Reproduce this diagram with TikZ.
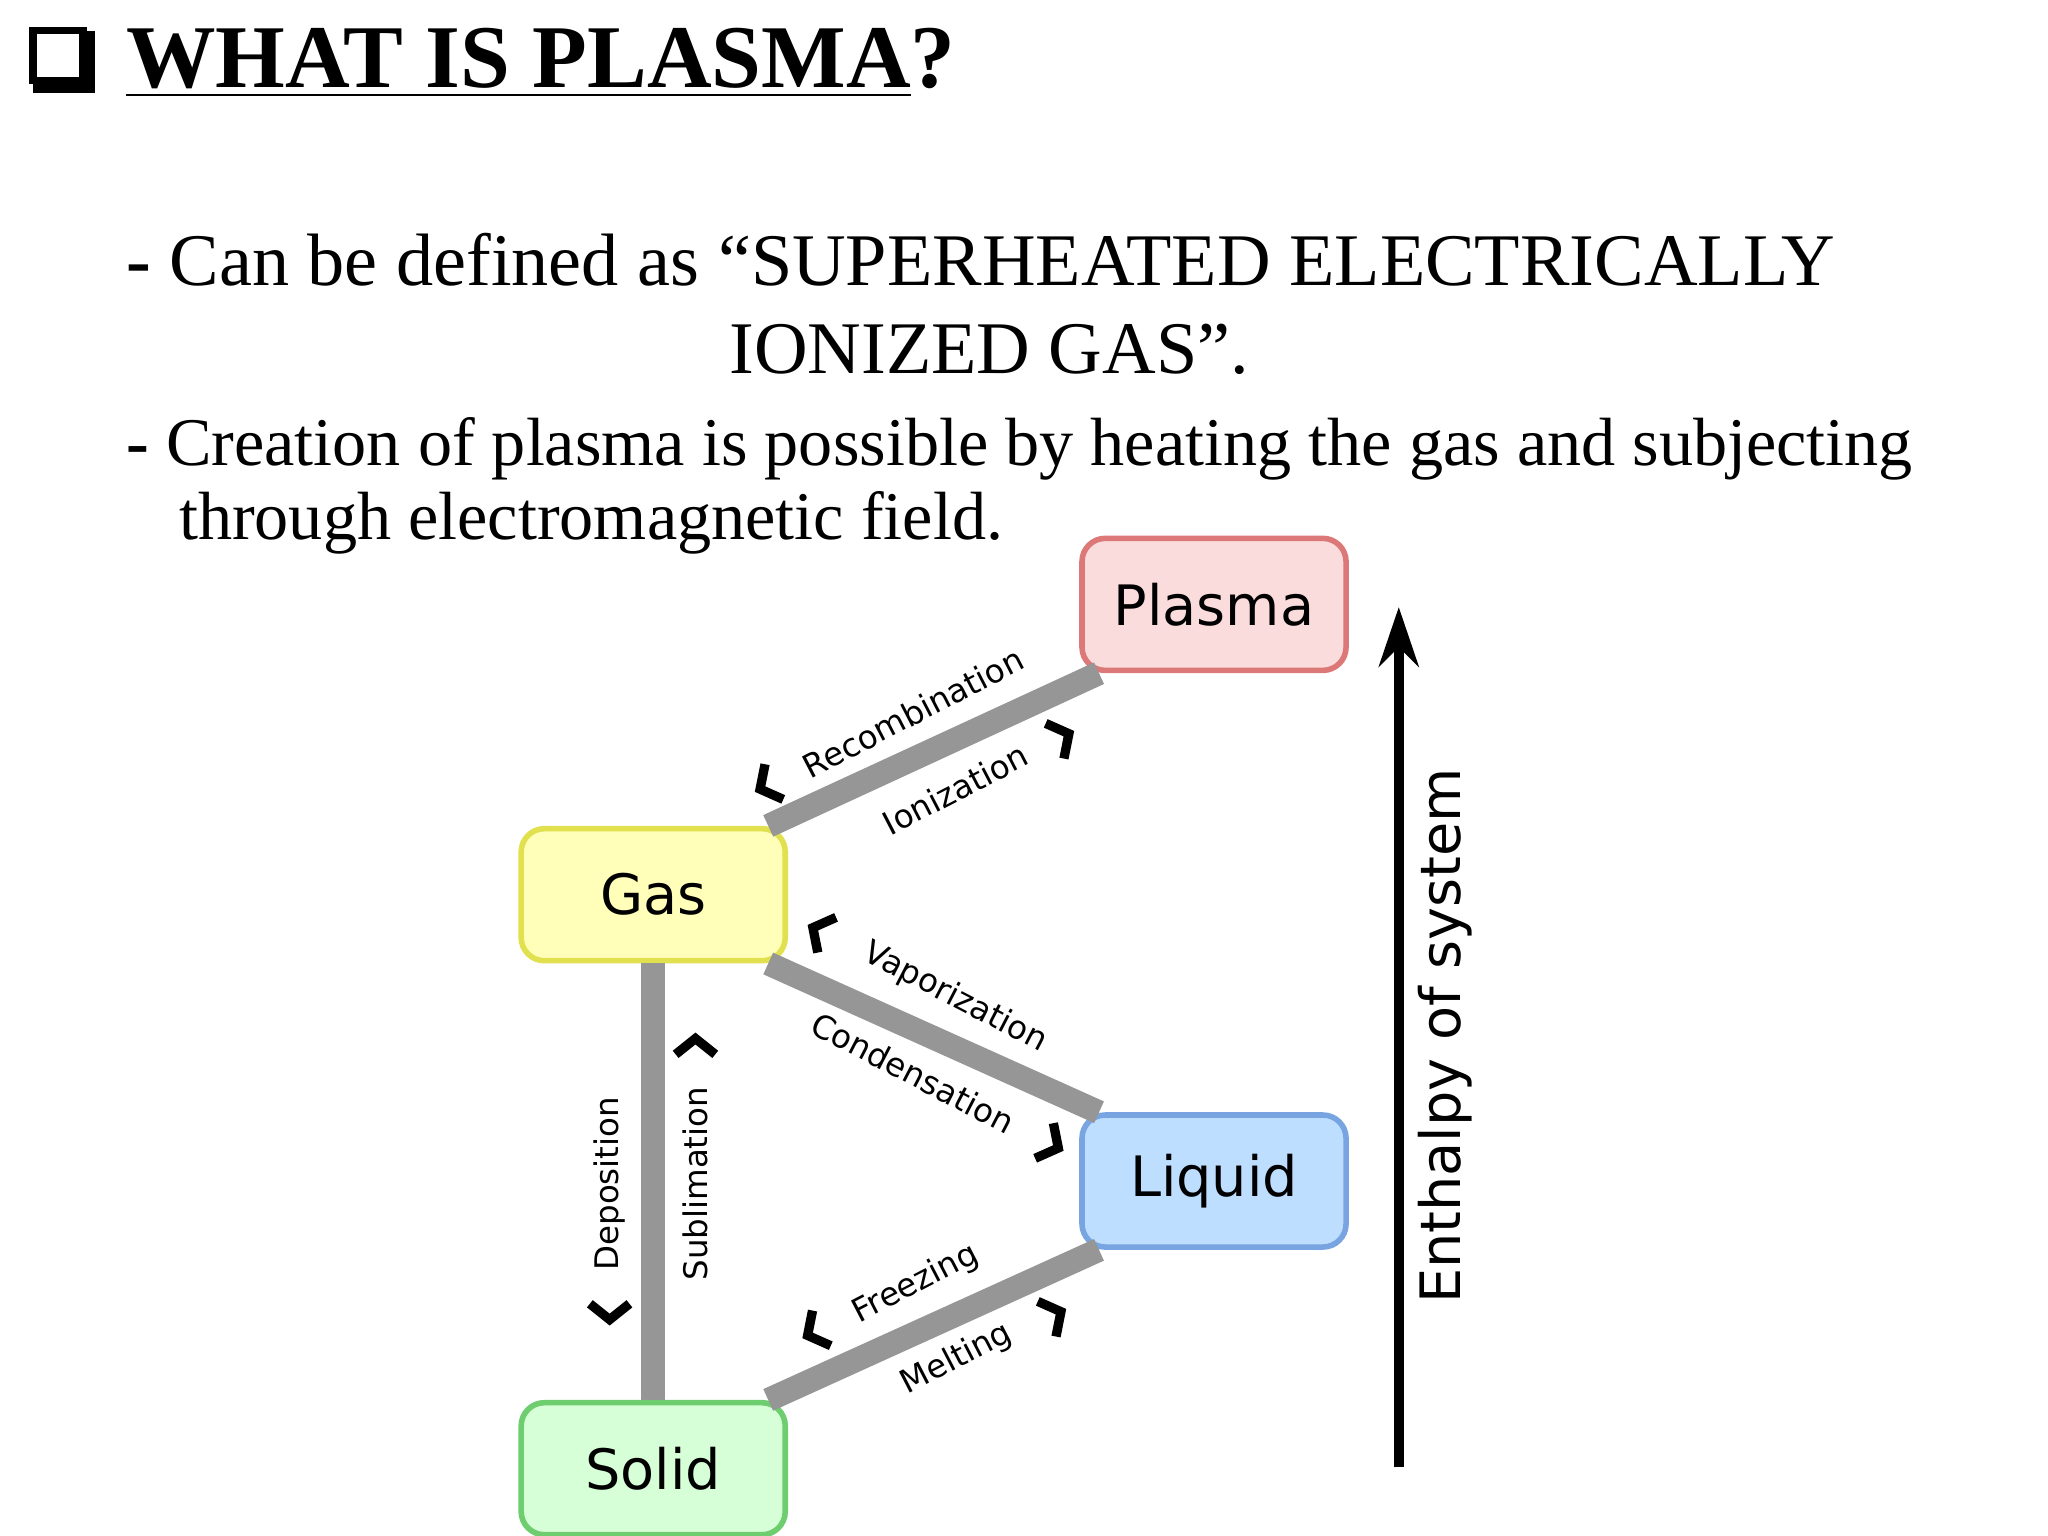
\documentclass[tikz,border=0pt]{standalone}
\usepackage{fontspec}
\setmainfont{Liberation Serif}
\newfontfamily\dv{DejaVu Sans}
\usetikzlibrary{arrows.meta}
\definecolor{pfill}{RGB}{250,220,220}\definecolor{pdraw}{RGB}{220,120,120}
\definecolor{gfill}{RGB}{255,255,185}\definecolor{gdraw}{RGB}{225,225,80}
\definecolor{lfill}{RGB}{190,222,255}\definecolor{ldraw}{RGB}{120,165,225}
\definecolor{sfill}{RGB}{215,255,215}\definecolor{sdraw}{RGB}{110,205,110}
\definecolor{link}{RGB}{150,150,150}
\begin{document}
\begin{tikzpicture}[x=0.01cm,y=-0.01cm,
  state/.style={draw=#1, line width=1.2pt, rounded corners=5pt, minimum width=2cm, minimum height=1cm, font=\dv\fontsize{12}{14}\selectfont},
  link/.style={draw=link, line width=0.18cm},
  lab/.style={font=\dv\fontsize{7}{8}\selectfont, inner sep=0pt},
  chev/.pic={\draw[line width=2pt, line join=miter, line cap=butt] (12,-15)--(0,0)--(12,15);},
  body/.style={font=\fontsize{16}{19}\selectfont, anchor=base west, inner sep=0pt}]
\useasboundingbox (0,0) rectangle (1552,1164);
% title
\node[draw, line width=1.6pt, minimum size=0.38cm, inner sep=0pt] (box) at (44,42) {};
\draw[line width=2pt] ([shift={(3,3)}]box.south west) -- ([shift={(3,3)}]box.south east) -- ([shift={(3,3)}]box.north east);
\node[body, font=\bfseries\fontsize{19.3}{22}\selectfont] (title) at (95,66) {\underline{WHAT IS PLASMA}?};
\node[body] (l1) at (95,216) {\textbf{-} Can be defined as “SUPERHEATED ELECTRICALLY};
\node[body] (l2) at (552,283) {IONIZED GAS”.};
\node[body, font=\fontsize{14.7}{18}\selectfont] (l3) at (95,353) {\textbf{-} Creation of plasma is possible by heating the gas and subjecting};
\node[body, font=\fontsize{14.7}{18}\selectfont] (l4) at (135,409) {through electromagnetic field.};
% nodes
\node[state=pdraw, fill=pfill] (P) at (920,458) {Plasma};
\node[state=gdraw, fill=gfill] (G) at (495,678) {Gas};
\node[state=ldraw, fill=lfill] (L) at (920,895) {Liquid};
\node[state=sdraw, fill=sfill] (S) at (495,1113) {Solid};
\draw[link] ([xshift=-0.15cm]G.north east) -- ([xshift=0.15cm]P.south west);
\draw[link] ([xshift=-0.15cm]G.south east) -- ([xshift=0.15cm]L.north west);
\draw[link] (G.south) -- (S.north);
\draw[link] ([xshift=-0.15cm]S.north east) -- ([xshift=0.15cm]L.south west);
% labels
\node[lab, rotate=27.4] (rec) at (692,540) {Recombination};
\node[lab, rotate=27.4] (ion) at (724,598) {Ionization};
\node[lab, rotate=-27.4] (vap) at (724,756) {Vaporization};
\node[lab, rotate=-27.4] (con) at (692,813) {Condensation};
\node[lab, rotate=27.4] (fre) at (694,973) {Freezing};
\node[lab, rotate=27.4] (mel) at (725,1030) {Melting};
\node[lab, rotate=90] (dep) at (462,897) {Deposition};
\node[lab, rotate=90] (sub) at (527,897) {Sublimation};
\pic[rotate=27.4] at (576,598) {chev};
\pic[rotate=180+27.4] at (810,556) {chev};
\pic[rotate=-27.4] at (616,703) {chev};
\pic[rotate=180-27.4] at (802,870) {chev};
\pic[rotate=27.4] at (612,1012) {chev};
\pic[rotate=180+27.4] at (804,994) {chev};
\pic[rotate=90] at (462,1000) {chev};
\pic[rotate=-90] at (527,787) {chev};
% enthalpy
\coordinate (e0) at (1060,1112);
\coordinate (e1) at (1060,460);
\draw[line width=2.2pt, -{Stealth[length=0.45cm,width=0.3cm]}] (e0) -- (e1);
\node[font=\dv\fontsize{12}{14}\selectfont, rotate=90] (ent) at (1095,785) {Enthalpy of system};
\end{tikzpicture}
\end{document}
